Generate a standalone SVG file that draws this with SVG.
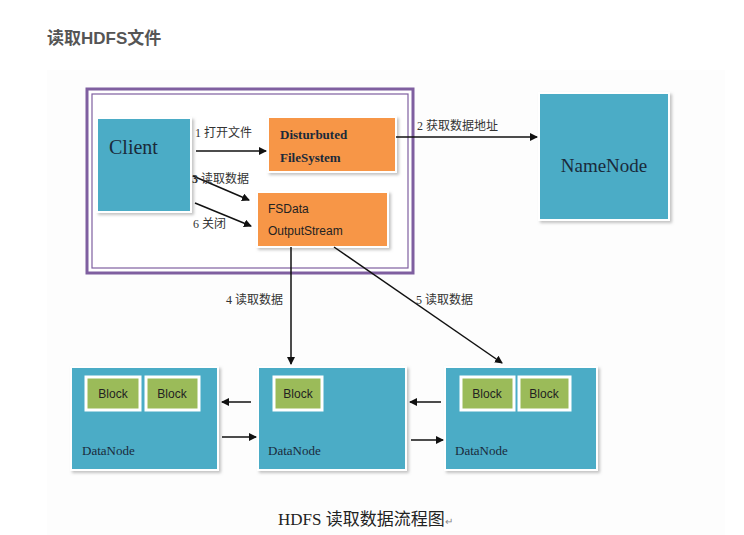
<svg xmlns="http://www.w3.org/2000/svg" width="744" height="535" viewBox="0 0 744 535">
<style>
.teal{fill:#4BACC6;stroke:#fff;stroke-width:2;filter:url(#sh)}
.orange{fill:#F79646;stroke:#fff;stroke-width:2;filter:url(#sh)}
.blk{fill:#9BBB59;stroke:#fff;stroke-width:3}
.ser{font-family:"Liberation Serif","Noto Sans CJK SC",serif;fill:#1a2a3a}
.lbl{font-family:"Liberation Serif","Noto Sans CJK SC",serif;font-size:12px;fill:#333}
.sans{font-family:"Liberation Sans","Noto Sans CJK SC",sans-serif;font-size:12px;fill:#222}
.ln{stroke:#111;stroke-width:1.5;fill:none;marker-end:url(#ah)}
</style>
<defs>
<marker id="ah" markerWidth="8" markerHeight="8" refX="7" refY="4" orient="auto" markerUnits="userSpaceOnUse"><path d="M0,0L8,4L0,8z" fill="#111"/></marker>
<filter id="sh" x="-10%" y="-10%" width="120%" height="120%"><feDropShadow dx="2" dy="2" stdDeviation="1.5" flood-color="#999" flood-opacity="0.6"/></filter>
</defs>
<rect width="744" height="535" fill="#fff"/>
<text x="47" y="44" font-family="Liberation Sans,Noto Sans CJK SC,sans-serif" font-size="17" font-weight="bold" fill="#555">读取HDFS文件</text>
<rect x="47" y="70" width="678" height="465" fill="#fdfdfd"/>
<g id="outer"><rect x="87" y="89" width="326" height="184" fill="#fff" stroke="#7F5FA0" stroke-width="3"/><rect x="92" y="94" width="316" height="174" fill="none" stroke="#7F5FA0" stroke-width="1.2"/></g>
<g id="client"><rect class="teal" x="97" y="118" width="94" height="94"/><text class="ser" x="109" y="154" font-size="20">Client</text></g>
<g id="dfs"><rect class="orange" x="268" y="117" width="128" height="55"/><text class="ser" x="280" y="139" font-size="13" font-weight="bold">Disturbuted</text><text class="ser" x="280" y="162" font-size="13" font-weight="bold">FileSystem</text></g>
<g id="fsdata"><rect class="orange" x="257" y="192" width="131" height="55"/><text class="sans" x="268" y="213" font-size="12">FSData</text><text class="sans" x="268" y="235" font-size="12">OutputStream</text></g>
<g id="namenode"><rect class="teal" x="539" y="93" width="130" height="127"/><text class="ser" x="604" y="172" font-size="19" text-anchor="middle">NameNode</text></g>
<g id="dn1"><rect class="teal" x="71" y="367" width="147" height="103"/><rect class="blk" x="86" y="377" width="54" height="33"/><rect class="blk" x="146" y="377" width="53" height="33"/><text class="sans" x="113" y="398" text-anchor="middle">Block</text><text class="sans" x="172" y="398" text-anchor="middle">Block</text><text class="ser" x="82" y="455" font-size="13">DataNode</text></g>
<g id="dn2"><rect class="teal" x="258" y="367" width="148" height="103"/><rect class="blk" x="274" y="377" width="48" height="33"/><text class="sans" x="298" y="398" text-anchor="middle">Block</text><text class="ser" x="268" y="455" font-size="13">DataNode</text></g>
<g id="dn3"><rect class="teal" x="445" y="367" width="152" height="103"/><rect class="blk" x="461" y="377" width="53" height="33"/><rect class="blk" x="519" y="377" width="51" height="33"/><text class="sans" x="487" y="398" text-anchor="middle">Block</text><text class="sans" x="544" y="398" text-anchor="middle">Block</text><text class="ser" x="455" y="455" font-size="13">DataNode</text></g>
<g id="connectors">
<line class="ln" x1="196" y1="151" x2="266" y2="151"/>
<line class="ln" x1="396" y1="137" x2="537" y2="137"/>
<line class="ln" x1="193" y1="176" x2="249" y2="200"/>
<line class="ln" x1="195" y1="203" x2="251" y2="226"/>
<line class="ln" x1="291" y1="247" x2="291" y2="364"/>
<line class="ln" x1="334" y1="247" x2="502" y2="363"/>
<line class="ln" x1="251" y1="402" x2="222" y2="402"/>
<line class="ln" x1="222" y1="437" x2="256" y2="437"/>
<line class="ln" x1="441" y1="402" x2="410" y2="402"/>
<line class="ln" x1="411" y1="440" x2="443" y2="440"/>
<text class="lbl" x="195" y="137">1 打开文件</text>
<text class="lbl" x="417" y="130">2 获取数据地址</text>
<text class="lbl" x="192" y="183"><tspan font-weight="bold">3</tspan> 读取数据</text>
<text class="lbl" x="193" y="228">6 关闭</text>
<text class="lbl" x="226" y="304">4 读取数据</text>
<text class="lbl" x="416" y="304">5 读取数据</text>
</g>
<text x="278" y="525" font-family="Liberation Serif,Noto Sans CJK SC,serif" font-size="17" fill="#222">HDFS 读取数据流程图<tspan font-size="10" fill="#888">↵</tspan></text>
</svg>
